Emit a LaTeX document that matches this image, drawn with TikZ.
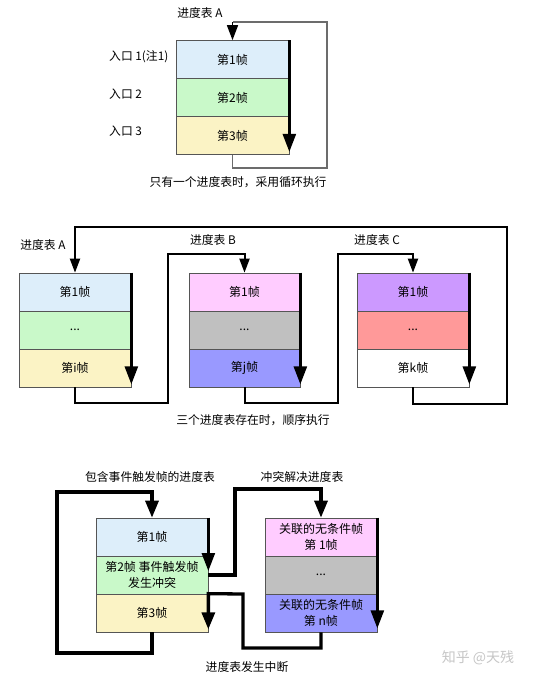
\documentclass[tikz,border=0pt]{standalone}
\usepackage{fontspec}
\setmainfont{Noto Sans CJK SC}
\usetikzlibrary{arrows.meta}
\definecolor{cblue}{HTML}{DDEEFA}
\definecolor{cgreen}{HTML}{C9F9C9}
\definecolor{cyellow}{HTML}{FBF3C5}
\definecolor{cpink}{HTML}{FFCCFF}
\definecolor{cgrey}{HTML}{C0C0C0}
\definecolor{cbp}{HTML}{9999FF}
\definecolor{cpurple}{HTML}{CC99FF}
\definecolor{csalmon}{HTML}{FF9999}
\definecolor{frame}{HTML}{555555}
\tikzset{
  cell/.style={draw=frame, line width=0.7pt, minimum width=112pt, minimum height=38pt, inner sep=1pt, align=center, font=\fontsize{12}{16}\selectfont},
  lbl/.style={font=\fontsize{11.8}{14}\selectfont, inner sep=1pt},
  toptip/.style={-{Triangle[width=10pt,length=14pt]}},
  bigtip/.style={-{Triangle[width=13pt,length=18pt]}},
  edge/.style={line width=2.6pt, bigtip},
  loopA/.style={draw=gray!85!black, line width=1.3pt},
  conn1/.style={line width=1.5pt, -{Triangle[width=11pt,length=15pt]}},
  conn2/.style={line width=2pt, toptip},
  conn3/.style={line width=3.3pt, -{Triangle[width=13pt,length=17pt]}},
}
\begin{document}
\begin{tikzpicture}[x=1pt,y=-1pt]
\useasboundingbox[fill=white] (0,0) rectangle (535,681);

% ---------------- diagram 1 ----------------
\node[cell, fill=cblue, minimum width=113pt] (a1) at (232.5,59.5) {第1帧};
\node[cell, fill=cgreen, minimum width=113pt] (a2) at (232.5,97.5) {第2帧};
\node[cell, fill=cyellow, minimum width=113pt] (a3) at (232.5,135.5) {第3帧};
\node[lbl] (ta) at (200,13) {进度表 A};
\node[lbl, anchor=west] (e1) at (108,57) {入口 1(注1)};
\node[lbl, anchor=west] (e2) at (108,94) {入口 2};
\node[lbl, anchor=west] (e3) at (108,131) {入口 3};
\node[lbl] (cap1) at (238,182) {只有一个进度表时，采用循环执行};
\coordinate (t1) at (232.5,22);
\draw[loopA] (a3.south) -- (a3.south |- 0,168) -| (327,22) -- (t1);
\draw[edge] (a1.north east) -- ([yshift=3pt]a3.south east);
\draw[conn1, black] (t1) -- (a1.north);

% ---------------- diagram 2 ----------------
\node[cell, fill=cblue] (A1) at (75,292) {第1帧};
\node[cell, fill=cgreen] (A2) at (75,330) {...};
\node[cell, fill=cyellow] (A3) at (75,368) {第i帧};
\node[cell, fill=cpink, minimum width=111pt] (B1) at (244.5,292) {第1帧};
\node[cell, fill=cgrey, minimum width=111pt] (B2) at (244.5,330) {...};
\node[cell, fill=cbp, minimum width=111pt] (B3) at (244.5,368) {第j帧};
\node[cell, fill=cpurple] (C1) at (413,292) {第1帧};
\node[cell, fill=csalmon] (C2) at (413,330) {...};
\node[cell, fill=white] (C3) at (413,368) {第k帧};
\node[lbl] (tA) at (43,245) {进度表 A};
\node[lbl] (tB) at (213,240) {进度表 B};
\node[lbl] (tC) at (377,240) {进度表 C};
\node[lbl] (cap2) at (253,420) {三个进度表存在时，顺序执行};
\draw[conn2] (C3.south) -- (C3.south |- 0,404) -| (507,227) -| (A1.north);
\draw[conn2] (A3.south) -- (A3.south |- 0,403) -| (168,254) -| (B1.north);
\draw[conn2] (B3.south) -- (B3.south |- 0,403) -| (338,254) -| (C1.north);
\draw[edge] (A1.north east) -- ([yshift=3pt]A3.south east);
\draw[edge] (B1.north east) -- ([yshift=3pt]B3.south east);
\draw[edge] (C1.north east) -- ([yshift=3pt]C3.south east);

% ---------------- diagram 3 ----------------
\node[cell, fill=cblue] (b1) at (152,537) {第1帧};
\node[cell, fill=cgreen] (b2) at (152,575) {第2帧 事件触发帧\\发生冲突};
\node[cell, fill=cyellow] (b3) at (152,613) {第3帧};
\node[cell, fill=cpink] (c1) at (321,537) {关联的无条件帧\\第 1帧};
\node[cell, fill=cgrey] (c2) at (321,575) {...};
\node[cell, fill=cbp] (c3) at (321,613) {关联的无条件帧\\第 n帧};
\node[lbl] (tb) at (150,477) {包含事件触发帧的进度表};
\node[lbl] (tc) at (302,477) {冲突解决进度表};
\node[lbl] (cap3) at (247,667) {进度表发生中断};
\node[font=\fontsize{14}{16}\selectfont, text=gray!45] (wm) at (478,658) {知乎 @天残};
\draw[conn3] (b3.south) -- (b3.south |- 0,653) -| (57,492) -| (b1.north);
\draw[conn3] (b2.east) -| (235,489) -| (c1.north);
\draw[conn3] (c3.south) -- (c3.south |- 0,648) -| (243,594) -- (b3.north east) -- ([yshift=3pt]b3.south east);
\draw[edge] (b1.north east) -- ([yshift=4pt]b2.east);
\draw[edge] (c1.north east) -- ([yshift=4pt]c3.south east);
\end{tikzpicture}
\end{document}
